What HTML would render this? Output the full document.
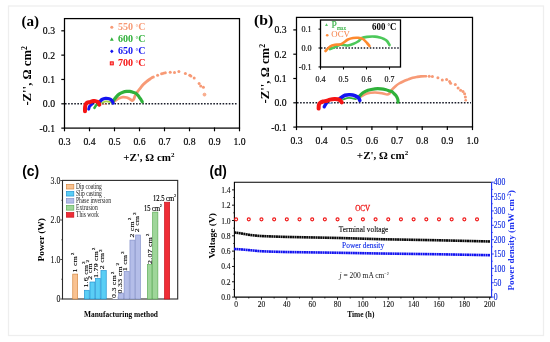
<!DOCTYPE html>
<html><head><meta charset="utf-8"><style>
html,body{margin:0;padding:0;background:#fff;width:550px;height:342px;overflow:hidden}
svg{display:block;will-change:transform}
</style></head><body>
<svg width="550" height="342" viewBox="0 0 550 342">
<rect x="8.50" y="6.00" width="535.00" height="329.50" fill="none" stroke="#eeeeee" stroke-width="1.3"/>
<text x="21.40" y="26.00" font-size="15" text-anchor="start" font-weight="bold" font-style="normal" fill="#000" font-family='"Liberation Serif", serif' textLength="17.6" lengthAdjust="spacingAndGlyphs">(a)</text>
<line x1="61.30" y1="30.81" x2="64.50" y2="30.81" stroke="#000" stroke-width="1.2"/>
<text x="0.00" y="0.00" font-size="10.8" text-anchor="end" font-weight="normal" font-style="normal" fill="#000" font-family='"Liberation Serif", serif' transform="translate(55.00 34.21) scale(0.9 1)" stroke="#000" stroke-width="0.2">0.3</text>
<line x1="61.30" y1="55.14" x2="64.50" y2="55.14" stroke="#000" stroke-width="1.2"/>
<text x="0.00" y="0.00" font-size="10.8" text-anchor="end" font-weight="normal" font-style="normal" fill="#000" font-family='"Liberation Serif", serif' transform="translate(55.00 58.54) scale(0.9 1)" stroke="#000" stroke-width="0.2">0.2</text>
<line x1="61.30" y1="79.47" x2="64.50" y2="79.47" stroke="#000" stroke-width="1.2"/>
<text x="0.00" y="0.00" font-size="10.8" text-anchor="end" font-weight="normal" font-style="normal" fill="#000" font-family='"Liberation Serif", serif' transform="translate(55.00 82.87) scale(0.9 1)" stroke="#000" stroke-width="0.2">0.1</text>
<line x1="61.30" y1="103.80" x2="64.50" y2="103.80" stroke="#000" stroke-width="1.2"/>
<text x="0.00" y="0.00" font-size="10.8" text-anchor="end" font-weight="normal" font-style="normal" fill="#000" font-family='"Liberation Serif", serif' transform="translate(55.00 107.20) scale(0.9 1)" stroke="#000" stroke-width="0.2">0.0</text>
<line x1="61.30" y1="128.13" x2="64.50" y2="128.13" stroke="#000" stroke-width="1.2"/>
<text x="0.00" y="0.00" font-size="10.8" text-anchor="end" font-weight="normal" font-style="normal" fill="#000" font-family='"Liberation Serif", serif' transform="translate(55.00 131.53) scale(0.9 1)" stroke="#000" stroke-width="0.2">-0.1</text>
<line x1="64.50" y1="127.50" x2="64.50" y2="131.30" stroke="#000" stroke-width="1.2"/>
<text x="0.00" y="0.00" font-size="10.8" text-anchor="middle" font-weight="normal" font-style="normal" fill="#000" font-family='"Liberation Serif", serif' transform="translate(64.50 145.20) scale(0.9 1)" stroke="#000" stroke-width="0.2">0.3</text>
<line x1="89.50" y1="127.50" x2="89.50" y2="131.30" stroke="#000" stroke-width="1.2"/>
<text x="0.00" y="0.00" font-size="10.8" text-anchor="middle" font-weight="normal" font-style="normal" fill="#000" font-family='"Liberation Serif", serif' transform="translate(89.50 145.20) scale(0.9 1)" stroke="#000" stroke-width="0.2">0.4</text>
<line x1="114.50" y1="127.50" x2="114.50" y2="131.30" stroke="#000" stroke-width="1.2"/>
<text x="0.00" y="0.00" font-size="10.8" text-anchor="middle" font-weight="normal" font-style="normal" fill="#000" font-family='"Liberation Serif", serif' transform="translate(114.50 145.20) scale(0.9 1)" stroke="#000" stroke-width="0.2">0.5</text>
<line x1="139.50" y1="127.50" x2="139.50" y2="131.30" stroke="#000" stroke-width="1.2"/>
<text x="0.00" y="0.00" font-size="10.8" text-anchor="middle" font-weight="normal" font-style="normal" fill="#000" font-family='"Liberation Serif", serif' transform="translate(139.50 145.20) scale(0.9 1)" stroke="#000" stroke-width="0.2">0.6</text>
<line x1="164.50" y1="127.50" x2="164.50" y2="131.30" stroke="#000" stroke-width="1.2"/>
<text x="0.00" y="0.00" font-size="10.8" text-anchor="middle" font-weight="normal" font-style="normal" fill="#000" font-family='"Liberation Serif", serif' transform="translate(164.50 145.20) scale(0.9 1)" stroke="#000" stroke-width="0.2">0.7</text>
<line x1="189.50" y1="127.50" x2="189.50" y2="131.30" stroke="#000" stroke-width="1.2"/>
<text x="0.00" y="0.00" font-size="10.8" text-anchor="middle" font-weight="normal" font-style="normal" fill="#000" font-family='"Liberation Serif", serif' transform="translate(189.50 145.20) scale(0.9 1)" stroke="#000" stroke-width="0.2">0.8</text>
<line x1="214.50" y1="127.50" x2="214.50" y2="131.30" stroke="#000" stroke-width="1.2"/>
<text x="0.00" y="0.00" font-size="10.8" text-anchor="middle" font-weight="normal" font-style="normal" fill="#000" font-family='"Liberation Serif", serif' transform="translate(214.50 145.20) scale(0.9 1)" stroke="#000" stroke-width="0.2">0.9</text>
<line x1="239.50" y1="127.50" x2="239.50" y2="131.30" stroke="#000" stroke-width="1.2"/>
<text x="0.00" y="0.00" font-size="10.8" text-anchor="middle" font-weight="normal" font-style="normal" fill="#000" font-family='"Liberation Serif", serif' transform="translate(239.50 145.20) scale(0.9 1)" stroke="#000" stroke-width="0.2">1.0</text>
<line x1="65.00" y1="103.80" x2="237.00" y2="103.80" stroke="#1a1d2a" stroke-width="1.6" stroke-dasharray="1.6 1.49"/>
<rect x="64.50" y="18.60" width="175.00" height="109.50" fill="none" stroke="#000" stroke-width="1.25"/>
<text x="148.80" y="161.00" font-size="11" text-anchor="middle" font-weight="bold" font-style="normal" fill="#000" font-family='"Liberation Serif", serif'>+Z', Ω cm<tspan font-size="7" dy="-4">2</tspan></text>
<text x="31.30" y="105.60" font-size="13" text-anchor="start" font-weight="bold" font-style="normal" fill="#000" font-family='"Liberation Serif", serif' transform="rotate(-90 31.3 105.6)" textLength="59.5" lengthAdjust="spacingAndGlyphs">-Z'', Ω cm<tspan font-size="8" dy="-4.5">2</tspan></text>
<text x="118.00" y="30.20" font-size="9.8" text-anchor="start" font-weight="bold" font-style="normal" fill="#f79a76" font-family='"Liberation Serif", serif' textLength="27.6" lengthAdjust="spacingAndGlyphs">550 <tspan font-size="6.8" dy="-1.6">°</tspan><tspan dy="1.6">C</tspan></text>
<circle cx="111.80" cy="27.20" r="1.55" fill="#f79a76" stroke="none" stroke-width="0"/>
<text x="118.00" y="42.25" font-size="9.8" text-anchor="start" font-weight="bold" font-style="normal" fill="#2fb13a" font-family='"Liberation Serif", serif' textLength="27.6" lengthAdjust="spacingAndGlyphs">600 <tspan font-size="6.8" dy="-1.6">°</tspan><tspan dy="1.6">C</tspan></text>
<polygon points="111.8,37.25 109.9,40.65 113.7,40.65" fill="#2fb13a"/>
<text x="118.00" y="54.30" font-size="9.8" text-anchor="start" font-weight="bold" font-style="normal" fill="#1414f0" font-family='"Liberation Serif", serif' textLength="27.6" lengthAdjust="spacingAndGlyphs">650 <tspan font-size="6.8" dy="-1.6">°</tspan><tspan dy="1.6">C</tspan></text>
<polygon points="111.8,49.4 113.6,51.3 111.8,53.199999999999996 110.0,51.3" fill="#1414f0"/>
<text x="118.00" y="66.35" font-size="9.8" text-anchor="start" font-weight="bold" font-style="normal" fill="#f51414" font-family='"Liberation Serif", serif' textLength="27.6" lengthAdjust="spacingAndGlyphs">700 <tspan font-size="6.8" dy="-1.6">°</tspan><tspan dy="1.6">C</tspan></text>
<rect x="110.30" y="61.85" width="3.00" height="3.00" fill="#f88" stroke="#f51414" stroke-width="1.0"/>
<path d="M113.50,101.60 C113.80,101.42 114.37,101.05 115.30,100.50 C116.23,99.95 117.83,98.87 119.10,98.30 C120.37,97.73 121.63,97.23 122.90,97.10 C124.17,96.97 125.55,97.18 126.70,97.50 C127.85,97.82 128.92,98.48 129.80,99.00 C130.68,99.52 131.37,100.50 132.00,100.60 C132.63,100.70 133.08,100.42 133.60,99.60 C134.12,98.78 134.47,96.98 135.10,95.70 C135.73,94.42 136.52,93.17 137.40,91.90 C138.28,90.63 139.38,89.37 140.40,88.10 C141.42,86.83 142.48,85.38 143.50,84.30 C144.52,83.22 145.42,82.48 146.50,81.60 C147.58,80.72 149.08,79.67 150.00,79.00 C150.92,78.33 151.67,77.83 152.00,77.60" fill="none" stroke="#f79a76" stroke-width="2.8" stroke-linecap="round" stroke-linejoin="round"/>
<circle cx="153.30" cy="76.90" r="1.5" fill="#f79a76" stroke="none" stroke-width="0"/>
<circle cx="157.60" cy="75.30" r="1.5" fill="#f79a76" stroke="none" stroke-width="0"/>
<circle cx="161.60" cy="73.70" r="1.5" fill="#f79a76" stroke="none" stroke-width="0"/>
<circle cx="163.40" cy="73.20" r="1.5" fill="#f79a76" stroke="none" stroke-width="0"/>
<circle cx="165.30" cy="72.80" r="1.5" fill="#f79a76" stroke="none" stroke-width="0"/>
<circle cx="170.20" cy="72.30" r="1.5" fill="#f79a76" stroke="none" stroke-width="0"/>
<circle cx="174.50" cy="72.60" r="1.5" fill="#f79a76" stroke="none" stroke-width="0"/>
<circle cx="178.90" cy="71.60" r="1.5" fill="#f79a76" stroke="none" stroke-width="0"/>
<circle cx="185.40" cy="73.60" r="1.5" fill="#f79a76" stroke="none" stroke-width="0"/>
<circle cx="189.80" cy="75.30" r="1.5" fill="#f79a76" stroke="none" stroke-width="0"/>
<circle cx="190.90" cy="76.10" r="1.5" fill="#f79a76" stroke="none" stroke-width="0"/>
<circle cx="194.20" cy="78.00" r="1.5" fill="#f79a76" stroke="none" stroke-width="0"/>
<circle cx="199.10" cy="83.40" r="1.5" fill="#f79a76" stroke="none" stroke-width="0"/>
<circle cx="200.70" cy="86.00" r="1.5" fill="#f79a76" stroke="none" stroke-width="0"/>
<circle cx="203.40" cy="87.30" r="1.5" fill="#f79a76" stroke="none" stroke-width="0"/>
<circle cx="204.50" cy="94.60" r="1.45" fill="#f9b090" stroke="#f79a76" stroke-width="0.8"/>
<path d="M94.50,107.80 C94.75,107.42 95.50,106.07 96.00,105.50 C96.50,104.93 97.25,104.58 97.50,104.40" fill="none" stroke="#2fb13a" stroke-width="2.6" stroke-linecap="round" stroke-linejoin="round"/>
<path d="M101.80,102.80 C102.53,102.57 104.87,101.53 106.20,101.40 C107.53,101.27 108.83,101.70 109.80,102.00 C110.77,102.30 111.63,103.00 112.00,103.20" fill="none" stroke="#a8d840" stroke-width="1.8" stroke-linecap="round" stroke-linejoin="round"/>
<circle cx="103.50" cy="104.20" r="0.6" fill="#f08050" stroke="none" stroke-width="0"/>
<circle cx="105.00" cy="104.20" r="0.6" fill="#f08050" stroke="none" stroke-width="0"/>
<circle cx="106.50" cy="104.20" r="0.6" fill="#f08050" stroke="none" stroke-width="0"/>
<path d="M113.20,101.00 C113.68,100.35 115.12,98.25 116.10,97.10 C117.08,95.95 117.97,94.92 119.10,94.10 C120.23,93.28 121.63,92.65 122.90,92.20 C124.17,91.75 125.55,91.53 126.70,91.40 C127.85,91.27 128.78,91.27 129.80,91.40 C130.82,91.53 131.78,91.88 132.80,92.20 C133.82,92.52 135.02,92.75 135.90,93.30 C136.78,93.85 137.47,94.75 138.10,95.50 C138.73,96.25 139.18,97.05 139.70,97.80 C140.22,98.55 140.77,99.33 141.20,100.00 C141.63,100.67 142.12,101.50 142.30,101.80" fill="none" stroke="#2fb13a" stroke-width="3.2" stroke-linecap="round" stroke-linejoin="round"/>
<path d="M88.70,109.10 C88.83,108.67 89.13,107.17 89.50,106.50 C89.87,105.83 90.48,105.48 90.90,105.10 C91.32,104.72 91.82,104.35 92.00,104.20" fill="none" stroke="#1414f0" stroke-width="3.0" stroke-linecap="round" stroke-linejoin="round"/>
<path d="M99.80,101.80 C100.17,101.42 101.05,100.07 102.00,99.50 C102.95,98.93 104.32,98.52 105.50,98.40 C106.68,98.28 108.05,98.45 109.10,98.80 C110.15,99.15 111.13,99.80 111.80,100.50 C112.47,101.20 112.88,102.58 113.10,103.00" fill="none" stroke="#1414f0" stroke-width="3.3" stroke-linecap="round" stroke-linejoin="round"/>
<path d="M85.00,111.30 C85.02,110.58 84.97,108.18 85.10,107.00 C85.23,105.82 85.42,104.95 85.80,104.20 C86.18,103.45 86.78,102.83 87.40,102.50 C88.02,102.17 88.87,102.33 89.50,102.20 C90.13,102.07 90.58,101.88 91.20,101.70 C91.82,101.52 92.48,101.20 93.20,101.10 C93.92,101.00 94.78,100.98 95.50,101.10 C96.22,101.22 96.95,101.45 97.50,101.80 C98.05,102.15 98.48,102.73 98.80,103.20 C99.12,103.67 99.30,104.37 99.40,104.60" fill="none" stroke="#f51414" stroke-width="4.0" stroke-linecap="round" stroke-linejoin="round"/>
<text x="254.00" y="24.50" font-size="15" text-anchor="start" font-weight="bold" font-style="normal" fill="#000" font-family='"Liberation Serif", serif' textLength="19.3" lengthAdjust="spacingAndGlyphs">(b)</text>
<line x1="293.30" y1="29.90" x2="296.50" y2="29.90" stroke="#000" stroke-width="1.2"/>
<text x="0.00" y="0.00" font-size="10.8" text-anchor="end" font-weight="normal" font-style="normal" fill="#000" font-family='"Liberation Serif", serif' transform="translate(286.60 33.30) scale(0.9 1)" stroke="#000" stroke-width="0.2">0.3</text>
<line x1="293.30" y1="54.20" x2="296.50" y2="54.20" stroke="#000" stroke-width="1.2"/>
<text x="0.00" y="0.00" font-size="10.8" text-anchor="end" font-weight="normal" font-style="normal" fill="#000" font-family='"Liberation Serif", serif' transform="translate(286.60 57.60) scale(0.9 1)" stroke="#000" stroke-width="0.2">0.2</text>
<line x1="293.30" y1="78.50" x2="296.50" y2="78.50" stroke="#000" stroke-width="1.2"/>
<text x="0.00" y="0.00" font-size="10.8" text-anchor="end" font-weight="normal" font-style="normal" fill="#000" font-family='"Liberation Serif", serif' transform="translate(286.60 81.90) scale(0.9 1)" stroke="#000" stroke-width="0.2">0.1</text>
<line x1="293.30" y1="102.80" x2="296.50" y2="102.80" stroke="#000" stroke-width="1.2"/>
<text x="0.00" y="0.00" font-size="10.8" text-anchor="end" font-weight="normal" font-style="normal" fill="#000" font-family='"Liberation Serif", serif' transform="translate(286.60 106.20) scale(0.9 1)" stroke="#000" stroke-width="0.2">0.0</text>
<line x1="293.30" y1="127.10" x2="296.50" y2="127.10" stroke="#000" stroke-width="1.2"/>
<text x="0.00" y="0.00" font-size="10.8" text-anchor="end" font-weight="normal" font-style="normal" fill="#000" font-family='"Liberation Serif", serif' transform="translate(286.60 130.50) scale(0.9 1)" stroke="#000" stroke-width="0.2">-0.1</text>
<line x1="296.50" y1="126.30" x2="296.50" y2="130.10" stroke="#000" stroke-width="1.2"/>
<text x="0.00" y="0.00" font-size="10.8" text-anchor="middle" font-weight="normal" font-style="normal" fill="#000" font-family='"Liberation Serif", serif' transform="translate(296.50 144.00) scale(0.9 1)" stroke="#000" stroke-width="0.2">0.3</text>
<line x1="321.64" y1="126.30" x2="321.64" y2="130.10" stroke="#000" stroke-width="1.2"/>
<text x="0.00" y="0.00" font-size="10.8" text-anchor="middle" font-weight="normal" font-style="normal" fill="#000" font-family='"Liberation Serif", serif' transform="translate(321.64 144.00) scale(0.9 1)" stroke="#000" stroke-width="0.2">0.4</text>
<line x1="346.78" y1="126.30" x2="346.78" y2="130.10" stroke="#000" stroke-width="1.2"/>
<text x="0.00" y="0.00" font-size="10.8" text-anchor="middle" font-weight="normal" font-style="normal" fill="#000" font-family='"Liberation Serif", serif' transform="translate(346.78 144.00) scale(0.9 1)" stroke="#000" stroke-width="0.2">0.5</text>
<line x1="371.92" y1="126.30" x2="371.92" y2="130.10" stroke="#000" stroke-width="1.2"/>
<text x="0.00" y="0.00" font-size="10.8" text-anchor="middle" font-weight="normal" font-style="normal" fill="#000" font-family='"Liberation Serif", serif' transform="translate(371.92 144.00) scale(0.9 1)" stroke="#000" stroke-width="0.2">0.6</text>
<line x1="397.06" y1="126.30" x2="397.06" y2="130.10" stroke="#000" stroke-width="1.2"/>
<text x="0.00" y="0.00" font-size="10.8" text-anchor="middle" font-weight="normal" font-style="normal" fill="#000" font-family='"Liberation Serif", serif' transform="translate(397.06 144.00) scale(0.9 1)" stroke="#000" stroke-width="0.2">0.7</text>
<line x1="422.20" y1="126.30" x2="422.20" y2="130.10" stroke="#000" stroke-width="1.2"/>
<text x="0.00" y="0.00" font-size="10.8" text-anchor="middle" font-weight="normal" font-style="normal" fill="#000" font-family='"Liberation Serif", serif' transform="translate(422.20 144.00) scale(0.9 1)" stroke="#000" stroke-width="0.2">0.8</text>
<line x1="447.34" y1="126.30" x2="447.34" y2="130.10" stroke="#000" stroke-width="1.2"/>
<text x="0.00" y="0.00" font-size="10.8" text-anchor="middle" font-weight="normal" font-style="normal" fill="#000" font-family='"Liberation Serif", serif' transform="translate(447.34 144.00) scale(0.9 1)" stroke="#000" stroke-width="0.2">0.9</text>
<line x1="472.48" y1="126.30" x2="472.48" y2="130.10" stroke="#000" stroke-width="1.2"/>
<text x="0.00" y="0.00" font-size="10.8" text-anchor="middle" font-weight="normal" font-style="normal" fill="#000" font-family='"Liberation Serif", serif' transform="translate(472.48 144.00) scale(0.9 1)" stroke="#000" stroke-width="0.2">1.0</text>
<line x1="297.00" y1="102.80" x2="470.98" y2="102.80" stroke="#1a1d2a" stroke-width="1.6" stroke-dasharray="1.6 1.49"/>
<rect x="296.50" y="17.40" width="176.00" height="109.50" fill="none" stroke="#000" stroke-width="1.25"/>
<text x="382.50" y="159.30" font-size="11" text-anchor="middle" font-weight="bold" font-style="normal" fill="#000" font-family='"Liberation Serif", serif'>+Z', Ω cm<tspan font-size="7" dy="-4">2</tspan></text>
<text x="269.40" y="103.40" font-size="13" text-anchor="start" font-weight="bold" font-style="normal" fill="#000" font-family='"Liberation Serif", serif' transform="rotate(-90 269.4 103.4)" textLength="59.5" lengthAdjust="spacingAndGlyphs">-Z'', Ω cm<tspan font-size="8" dy="-4.5">2</tspan></text>
<rect x="320.5" y="20" width="80" height="47" fill="#fff" stroke="none"/>
<line x1="318.50" y1="29.10" x2="320.50" y2="29.10" stroke="#000" stroke-width="1.1"/>
<text x="0.00" y="0.00" font-size="8.6" text-anchor="end" font-weight="normal" font-style="normal" fill="#111" font-family='"Liberation Serif", serif' transform="translate(311.60 32.00) scale(0.95 1)" stroke="#111" stroke-width="0.2">0.1</text>
<line x1="318.50" y1="48.00" x2="320.50" y2="48.00" stroke="#000" stroke-width="1.1"/>
<text x="0.00" y="0.00" font-size="8.6" text-anchor="end" font-weight="normal" font-style="normal" fill="#111" font-family='"Liberation Serif", serif' transform="translate(311.60 50.90) scale(0.95 1)" stroke="#111" stroke-width="0.2">0.0</text>
<line x1="318.50" y1="66.90" x2="320.50" y2="66.90" stroke="#000" stroke-width="1.1"/>
<text x="0.00" y="0.00" font-size="8.6" text-anchor="end" font-weight="normal" font-style="normal" fill="#111" font-family='"Liberation Serif", serif' transform="translate(311.60 69.80) scale(0.95 1)" stroke="#111" stroke-width="0.2">-0.1</text>
<line x1="320.50" y1="67.00" x2="320.50" y2="69.50" stroke="#000" stroke-width="1.1"/>
<text x="0.00" y="0.00" font-size="8.4" text-anchor="middle" font-weight="normal" font-style="normal" fill="#111" font-family='"Liberation Serif", serif' transform="translate(320.50 81.50) scale(0.95 1)" stroke="#111" stroke-width="0.2">0.4</text>
<line x1="343.50" y1="67.00" x2="343.50" y2="69.50" stroke="#000" stroke-width="1.1"/>
<text x="0.00" y="0.00" font-size="8.4" text-anchor="middle" font-weight="normal" font-style="normal" fill="#111" font-family='"Liberation Serif", serif' transform="translate(343.50 81.50) scale(0.95 1)" stroke="#111" stroke-width="0.2">0.5</text>
<line x1="366.50" y1="67.00" x2="366.50" y2="69.50" stroke="#000" stroke-width="1.1"/>
<text x="0.00" y="0.00" font-size="8.4" text-anchor="middle" font-weight="normal" font-style="normal" fill="#111" font-family='"Liberation Serif", serif' transform="translate(366.50 81.50) scale(0.95 1)" stroke="#111" stroke-width="0.2">0.6</text>
<line x1="389.50" y1="67.00" x2="389.50" y2="69.50" stroke="#000" stroke-width="1.1"/>
<text x="0.00" y="0.00" font-size="8.4" text-anchor="middle" font-weight="normal" font-style="normal" fill="#111" font-family='"Liberation Serif", serif' transform="translate(389.50 81.50) scale(0.95 1)" stroke="#111" stroke-width="0.2">0.7</text>
<line x1="321.00" y1="48.00" x2="400.00" y2="48.00" stroke="#1a1d2a" stroke-width="1.5" stroke-dasharray="1.5 1.55"/>
<rect x="320.50" y="20.00" width="80.00" height="47.00" fill="none" stroke="#000" stroke-width="1.3"/>
<text x="372.00" y="30.00" font-size="9.6" text-anchor="start" font-weight="bold" font-style="normal" fill="#000" font-family='"Liberation Serif", serif' textLength="24.5" lengthAdjust="spacingAndGlyphs">600 <tspan font-size="6.8" dy="-1.6">°</tspan><tspan dy="1.6">C</tspan></text>
<polygon points="326.5,23.3 325,26 328,26" fill="#5cc46a"/>
<text x="331.50" y="27.50" font-size="9.5" text-anchor="start" font-weight="normal" font-style="normal" fill="#3cb44a" font-family='"Liberation Serif", serif' stroke="#3cb44a" stroke-width="0.2">P</text>
<text x="337.00" y="29.90" font-size="5.6" text-anchor="start" font-weight="normal" font-style="normal" fill="#3cb44a" font-family='"Liberation Serif", serif' stroke="#3cb44a" stroke-width="0.15" textLength="9" lengthAdjust="spacingAndGlyphs">max</text>
<circle cx="327.20" cy="35.20" r="1.3" fill="#ff8c3a" stroke="none" stroke-width="0"/>
<text x="331.30" y="37.30" font-size="9.2" text-anchor="start" font-weight="normal" font-style="normal" fill="#f5824a" font-family='"Liberation Serif", serif' textLength="18.6" lengthAdjust="spacingAndGlyphs">OCV</text>
<path d="M330.00,49.00 C330.83,48.67 333.33,47.70 335.00,47.00 C336.67,46.30 338.50,45.13 340.00,44.80 C341.50,44.47 342.67,44.88 344.00,45.00 C345.33,45.12 346.50,45.67 348.00,45.50 C349.50,45.33 351.33,44.67 353.00,44.00 C354.67,43.33 356.50,42.50 358.00,41.50 C359.50,40.50 360.50,38.78 362.00,38.00 C363.50,37.22 364.83,37.03 367.00,36.80 C369.17,36.57 372.83,36.48 375.00,36.60 C377.17,36.72 378.50,37.10 380.00,37.50 C381.50,37.90 382.83,38.42 384.00,39.00 C385.17,39.58 386.08,40.00 387.00,41.00 C387.92,42.00 389.08,44.33 389.50,45.00" fill="none" stroke="#4cc85a" stroke-width="2.7" stroke-linecap="round" stroke-linejoin="round"/>
<path d="M325.50,51.00 C326.25,50.25 328.42,47.55 330.00,46.50 C331.58,45.45 333.33,45.03 335.00,44.70 C336.67,44.37 338.67,44.78 340.00,44.50 C341.33,44.22 341.67,43.83 343.00,43.00 C344.33,42.17 346.33,40.33 348.00,39.50 C349.67,38.67 351.33,38.28 353.00,38.00 C354.67,37.72 356.33,37.63 358.00,37.80 C359.67,37.97 361.50,38.13 363.00,39.00 C364.50,39.87 365.92,41.83 367.00,43.00 C368.08,44.17 369.08,45.50 369.50,46.00" fill="none" stroke="#fd8a2e" stroke-width="2.6" stroke-linecap="round" stroke-linejoin="round"/>
<path d="M361.00,96.50 C362.00,96.00 364.67,94.17 367.00,93.50 C369.33,92.83 372.33,92.50 375.00,92.50 C377.67,92.50 381.00,93.17 383.00,93.50 C385.00,93.83 385.92,94.50 387.00,94.50 C388.08,94.50 388.70,94.28 389.50,93.50 C390.30,92.72 390.80,91.02 391.80,89.80 C392.80,88.58 394.28,87.25 395.50,86.20 C396.72,85.15 397.75,84.33 399.10,83.50 C400.45,82.67 402.08,81.88 403.60,81.20 C405.12,80.52 406.68,79.97 408.20,79.40 C409.72,78.83 411.18,78.22 412.70,77.80 C414.22,77.38 415.93,77.13 417.30,76.90 C418.67,76.67 419.70,76.52 420.90,76.40 C422.10,76.28 423.65,76.23 424.50,76.20 C425.35,76.17 425.75,76.20 426.00,76.20" fill="none" stroke="#f79a76" stroke-width="2.6" stroke-linecap="round" stroke-linejoin="round"/>
<circle cx="429.20" cy="76.30" r="1.5" fill="#f79a76" stroke="none" stroke-width="0"/>
<circle cx="432.40" cy="76.60" r="1.5" fill="#f79a76" stroke="none" stroke-width="0"/>
<circle cx="437.90" cy="77.70" r="1.5" fill="#f79a76" stroke="none" stroke-width="0"/>
<circle cx="442.30" cy="80.00" r="1.5" fill="#f79a76" stroke="none" stroke-width="0"/>
<circle cx="446.60" cy="79.60" r="1.5" fill="#f79a76" stroke="none" stroke-width="0"/>
<circle cx="449.60" cy="81.60" r="1.5" fill="#f79a76" stroke="none" stroke-width="0"/>
<circle cx="450.60" cy="83.20" r="1.5" fill="#f79a76" stroke="none" stroke-width="0"/>
<circle cx="455.30" cy="84.40" r="1.5" fill="#f79a76" stroke="none" stroke-width="0"/>
<circle cx="458.10" cy="88.00" r="1.5" fill="#f79a76" stroke="none" stroke-width="0"/>
<circle cx="460.60" cy="90.20" r="1.5" fill="#f79a76" stroke="none" stroke-width="0"/>
<circle cx="463.00" cy="91.60" r="1.5" fill="#f79a76" stroke="none" stroke-width="0"/>
<circle cx="464.60" cy="93.70" r="1.5" fill="#f79a76" stroke="none" stroke-width="0"/>
<circle cx="465.40" cy="96.90" r="1.5" fill="#f79a76" stroke="none" stroke-width="0"/>
<circle cx="465.70" cy="100.20" r="1.3" fill="#f79a76" stroke="none" stroke-width="0"/>
<path d="M343.00,99.50 C344.00,99.22 346.83,97.85 349.00,97.80 C351.17,97.75 354.83,98.97 356.00,99.20" fill="none" stroke="#2fb13a" stroke-width="1.8" stroke-linecap="round" stroke-linejoin="round"/>
<polyline points="329.00,103.50 332.00,102.80" fill="none" stroke="#7ad" stroke-width="1.2" stroke-linecap="round" stroke-linejoin="round"/>
<path d="M359.00,96.60 C359.67,95.97 361.50,93.85 363.00,92.80 C364.50,91.75 366.00,90.97 368.00,90.30 C370.00,89.63 372.83,89.05 375.00,88.80 C377.17,88.55 379.17,88.65 381.00,88.80 C382.83,88.95 384.50,89.32 386.00,89.70 C387.50,90.08 389.00,90.77 390.00,91.10 C391.00,91.43 391.42,91.37 392.00,91.70 C392.58,92.03 392.83,92.45 393.50,93.10 C394.17,93.75 395.28,94.55 396.00,95.60 C396.72,96.65 397.47,98.30 397.80,99.40 C398.13,100.50 397.97,101.73 398.00,102.20" fill="none" stroke="#2fb13a" stroke-width="3.2" stroke-linecap="round" stroke-linejoin="round"/>
<path d="M324.20,106.80 C324.42,106.42 325.12,105.08 325.50,104.50 C325.88,103.92 326.33,103.50 326.50,103.30" fill="none" stroke="#1414f0" stroke-width="3.3" stroke-linecap="round" stroke-linejoin="round"/>
<path d="M340.00,98.40 C340.83,97.88 343.33,95.90 345.00,95.30 C346.67,94.70 348.33,94.73 350.00,94.80 C351.67,94.87 353.58,95.18 355.00,95.70 C356.42,96.22 357.70,97.13 358.50,97.90 C359.30,98.67 359.58,99.90 359.80,100.30" fill="none" stroke="#1414f0" stroke-width="3.6" stroke-linecap="round" stroke-linejoin="round"/>
<path d="M318.60,108.60 C318.65,107.97 318.63,105.77 318.90,104.80 C319.17,103.83 319.52,103.35 320.20,102.80 C320.88,102.25 321.87,101.83 323.00,101.50 C324.13,101.17 325.83,101.12 327.00,100.80 C328.17,100.48 328.67,99.88 330.00,99.60 C331.33,99.32 333.42,99.05 335.00,99.10 C336.58,99.15 338.37,99.37 339.50,99.90 C340.63,100.43 341.42,101.90 341.80,102.30" fill="none" stroke="#f51414" stroke-width="4.0" stroke-linecap="round" stroke-linejoin="round"/>
<text x="22.20" y="175.90" font-size="15.5" text-anchor="start" font-weight="bold" font-style="normal" fill="#000" font-family='"Liberation Sans", sans-serif' textLength="17" lengthAdjust="spacingAndGlyphs">(c)</text>
<line x1="60.30" y1="180.50" x2="62.50" y2="180.50" stroke="#333" stroke-width="0.9"/>
<text x="0.00" y="0.00" font-size="9.8" text-anchor="end" font-weight="normal" font-style="normal" fill="#111" font-family='"Liberation Serif", serif' transform="translate(60.40 183.80) scale(0.8 1)" stroke="#111" stroke-width="0.1">3.0</text>
<line x1="60.30" y1="220.00" x2="62.50" y2="220.00" stroke="#333" stroke-width="0.9"/>
<text x="0.00" y="0.00" font-size="9.8" text-anchor="end" font-weight="normal" font-style="normal" fill="#111" font-family='"Liberation Serif", serif' transform="translate(60.40 223.30) scale(0.8 1)" stroke="#111" stroke-width="0.1">2.0</text>
<line x1="60.30" y1="259.50" x2="62.50" y2="259.50" stroke="#333" stroke-width="0.9"/>
<text x="0.00" y="0.00" font-size="9.8" text-anchor="end" font-weight="normal" font-style="normal" fill="#111" font-family='"Liberation Serif", serif' transform="translate(60.40 262.80) scale(0.8 1)" stroke="#111" stroke-width="0.1">1.0</text>
<line x1="60.30" y1="299.00" x2="62.50" y2="299.00" stroke="#333" stroke-width="0.9"/>
<text x="0.00" y="0.00" font-size="9.8" text-anchor="end" font-weight="normal" font-style="normal" fill="#111" font-family='"Liberation Serif", serif' transform="translate(60.40 302.30) scale(0.8 1)" stroke="#111" stroke-width="0.1">0</text>
<line x1="61.30" y1="279.25" x2="62.50" y2="279.25" stroke="#333" stroke-width="0.8"/>
<line x1="61.30" y1="239.75" x2="62.50" y2="239.75" stroke="#333" stroke-width="0.8"/>
<line x1="61.30" y1="200.25" x2="62.50" y2="200.25" stroke="#333" stroke-width="0.8"/>
<rect x="62.50" y="180.40" width="115.20" height="118.60" fill="none" stroke="#2a2a2a" stroke-width="1.1"/>
<text x="0" y="0" font-size="9.0" font-weight="bold" fill="#000" font-family='"Liberation Serif", serif' transform="translate(43.80 261.50) scale(0.85 1) rotate(-90)" textLength="43.4" lengthAdjust="spacingAndGlyphs">Power (W)</text>
<text x="84.00" y="317.00" font-size="8.6" text-anchor="start" font-weight="bold" font-style="normal" fill="#000" font-family='"Liberation Serif", serif' textLength="74" lengthAdjust="spacingAndGlyphs">Manufacturing method</text>
<rect x="66.40" y="184.40" width="7.40" height="4.60" fill="#f9c291" stroke="#d58a45" stroke-width="0.7"/>
<text x="76.00" y="188.80" font-size="8.0" text-anchor="start" font-weight="normal" font-style="normal" fill="#1a1a1a" font-family='"Liberation Serif", serif' textLength="25.8" lengthAdjust="spacingAndGlyphs">Dip coating</text>
<rect x="66.40" y="191.45" width="7.40" height="4.60" fill="#5acef5" stroke="#2496d4" stroke-width="0.7"/>
<text x="76.00" y="195.85" font-size="8.0" text-anchor="start" font-weight="normal" font-style="normal" fill="#1a1a1a" font-family='"Liberation Serif", serif' textLength="25.8" lengthAdjust="spacingAndGlyphs">Slip casting</text>
<rect x="66.40" y="198.50" width="7.40" height="4.60" fill="#b4bde8" stroke="#8894cc" stroke-width="0.7"/>
<text x="76.00" y="202.90" font-size="8.0" text-anchor="start" font-weight="normal" font-style="normal" fill="#1a1a1a" font-family='"Liberation Serif", serif' textLength="35.1" lengthAdjust="spacingAndGlyphs">Phase inversion</text>
<rect x="66.40" y="205.55" width="7.40" height="4.60" fill="#9fd69a" stroke="#5fae5a" stroke-width="0.7"/>
<text x="76.00" y="209.95" font-size="8.0" text-anchor="start" font-weight="normal" font-style="normal" fill="#1a1a1a" font-family='"Liberation Serif", serif' textLength="21.7" lengthAdjust="spacingAndGlyphs">Extrusion</text>
<rect x="66.40" y="212.60" width="7.40" height="4.60" fill="#ef2d36" stroke="#c8101c" stroke-width="0.7"/>
<text x="76.00" y="217.00" font-size="8.0" text-anchor="start" font-weight="normal" font-style="normal" fill="#1a1a1a" font-family='"Liberation Serif", serif' textLength="22.8" lengthAdjust="spacingAndGlyphs">This work</text>
<rect x="72.75" y="274.12" width="4.90" height="24.88" fill="#f9c291" stroke="#d58a45" stroke-width="0.7"/>
<rect x="84.45" y="290.31" width="4.80" height="8.69" fill="#5acef5" stroke="#2496d4" stroke-width="0.7"/>
<rect x="89.95" y="282.01" width="4.90" height="16.99" fill="#5acef5" stroke="#2496d4" stroke-width="0.7"/>
<rect x="95.55" y="278.46" width="4.70" height="20.54" fill="#5acef5" stroke="#2496d4" stroke-width="0.7"/>
<rect x="100.95" y="270.56" width="5.30" height="28.44" fill="#5acef5" stroke="#2496d4" stroke-width="0.7"/>
<rect x="113.35" y="297.02" width="4.60" height="1.98" fill="#b4bde8" stroke="#8894cc" stroke-width="0.7"/>
<rect x="118.65" y="293.07" width="4.80" height="5.93" fill="#b4bde8" stroke="#8894cc" stroke-width="0.7"/>
<rect x="124.15" y="271.35" width="5.10" height="27.65" fill="#b4bde8" stroke="#8894cc" stroke-width="0.7"/>
<rect x="129.95" y="240.15" width="5.00" height="58.85" fill="#b4bde8" stroke="#8894cc" stroke-width="0.7"/>
<rect x="135.65" y="235.01" width="4.80" height="63.99" fill="#b4bde8" stroke="#8894cc" stroke-width="0.7"/>
<rect x="147.35" y="264.63" width="4.60" height="34.37" fill="#9fd69a" stroke="#5fae5a" stroke-width="0.7"/>
<rect x="152.65" y="212.10" width="5.20" height="86.90" fill="#9fd69a" stroke="#5fae5a" stroke-width="0.7"/>
<rect x="164.55" y="202.22" width="5.10" height="96.78" fill="#ef2d36" stroke="#c8101c" stroke-width="0.7"/>
<text x="0" y="0" font-size="7.8" fill="#000" stroke="#000" stroke-width="0.15" letter-spacing="0.3" font-family='"Liberation Serif", serif' transform="translate(76.60 272.40) scale(0.8 1) rotate(-90)">1 cm<tspan font-size="5.2" dy="-3.2" dx="0.7">2</tspan></text>
<text x="0" y="0" font-size="7.8" fill="#000" stroke="#000" stroke-width="0.15" letter-spacing="0.3" font-family='"Liberation Serif", serif' transform="translate(87.50 287.60) scale(0.8 1) rotate(-90)">1.6 cm<tspan font-size="5.2" dy="-3.2" dx="0.7">2</tspan></text>
<text x="0" y="0" font-size="7.8" fill="#000" stroke="#000" stroke-width="0.15" letter-spacing="0.3" font-family='"Liberation Serif", serif' transform="translate(92.00 279.70) scale(0.8 1) rotate(-90)">2 cm<tspan font-size="5.2" dy="-3.2" dx="0.7">2</tspan></text>
<text x="0" y="0" font-size="7.8" fill="#000" stroke="#000" stroke-width="0.15" letter-spacing="0.3" font-family='"Liberation Serif", serif' transform="translate(97.50 278.00) scale(0.8 1) rotate(-90)">1.79 cm<tspan font-size="5.2" dy="-3.2" dx="0.7">2</tspan></text>
<text x="0" y="0" font-size="7.8" fill="#000" stroke="#000" stroke-width="0.15" letter-spacing="0.3" font-family='"Liberation Serif", serif' transform="translate(104.10 269.20) scale(0.8 1) rotate(-90)">2 cm<tspan font-size="5.2" dy="-3.2" dx="0.7">2</tspan></text>
<rect x="112.6" y="268" width="5" height="31" fill="#fff"/>
<text x="0" y="0" font-size="7.8" fill="#000" stroke="#000" stroke-width="0.15" letter-spacing="0.3" font-family='"Liberation Serif", serif' transform="translate(116.30 298.00) scale(0.8 1) rotate(-90)">0.3 cm<tspan font-size="5.2" dy="-3.2" dx="0.7">2</tspan></text>
<text x="0" y="0" font-size="7.8" fill="#000" stroke="#000" stroke-width="0.15" letter-spacing="0.3" font-family='"Liberation Serif", serif' transform="translate(121.90 293.40) scale(0.8 1) rotate(-90)">0.33 cm<tspan font-size="5.2" dy="-3.2" dx="0.7">2</tspan></text>
<text x="0" y="0" font-size="7.8" fill="#000" stroke="#000" stroke-width="0.15" letter-spacing="0.3" font-family='"Liberation Serif", serif' transform="translate(126.80 271.30) scale(0.8 1) rotate(-90)">1 cm<tspan font-size="5.2" dy="-3.2" dx="0.7">2</tspan></text>
<text x="0" y="0" font-size="7.8" fill="#000" stroke="#000" stroke-width="0.15" letter-spacing="0.3" font-family='"Liberation Serif", serif' transform="translate(133.60 237.60) scale(0.8 1) rotate(-90)">2 cm<tspan font-size="5.2" dy="-3.2" dx="0.7">2</tspan></text>
<text x="0" y="0" font-size="7.8" fill="#000" stroke="#000" stroke-width="0.15" letter-spacing="0.3" font-family='"Liberation Serif", serif' transform="translate(139.00 232.20) scale(0.8 1) rotate(-90)">2 cm<tspan font-size="5.2" dy="-3.2" dx="0.7">2</tspan></text>
<text x="0" y="0" font-size="7.8" fill="#000" stroke="#000" stroke-width="0.15" letter-spacing="0.3" font-family='"Liberation Serif", serif' transform="translate(152.00 264.00) scale(0.8 1) rotate(-90)">2.07 cm<tspan font-size="5.2" dy="-3.2" dx="0.7">2</tspan></text>
<text x="144.00" y="211.30" font-size="8.9" text-anchor="start" font-weight="normal" font-style="normal" fill="#000" font-family='"Liberation Serif", serif' stroke="#000" stroke-width="0.2" textLength="17.6" lengthAdjust="spacingAndGlyphs">15 cm<tspan font-size="4.6" dy="-4">2</tspan></text>
<text x="152.90" y="200.60" font-size="8.9" text-anchor="start" font-weight="normal" font-style="normal" fill="#000" font-family='"Liberation Serif", serif' stroke="#000" stroke-width="0.2" textLength="23.0" lengthAdjust="spacingAndGlyphs">12.5 cm<tspan font-size="4.6" dy="-4">2</tspan></text>
<text x="209.50" y="175.90" font-size="15.5" text-anchor="start" font-weight="bold" font-style="normal" fill="#000" font-family='"Liberation Sans", sans-serif' textLength="17.4" lengthAdjust="spacingAndGlyphs">(d)</text>
<line x1="232.00" y1="297.10" x2="234.40" y2="297.10" stroke="#000" stroke-width="0.9"/>
<text x="0.00" y="0.00" font-size="9.0" text-anchor="end" font-weight="normal" font-style="normal" fill="#111" font-family='"Liberation Serif", serif' transform="translate(230.60 300.10) scale(0.84 1)" stroke="#111" stroke-width="0.12">0.0</text>
<line x1="232.00" y1="281.78" x2="234.40" y2="281.78" stroke="#000" stroke-width="0.9"/>
<text x="0.00" y="0.00" font-size="9.0" text-anchor="end" font-weight="normal" font-style="normal" fill="#111" font-family='"Liberation Serif", serif' transform="translate(230.60 284.78) scale(0.84 1)" stroke="#111" stroke-width="0.12">0.2</text>
<line x1="232.00" y1="266.46" x2="234.40" y2="266.46" stroke="#000" stroke-width="0.9"/>
<text x="0.00" y="0.00" font-size="9.0" text-anchor="end" font-weight="normal" font-style="normal" fill="#111" font-family='"Liberation Serif", serif' transform="translate(230.60 269.46) scale(0.84 1)" stroke="#111" stroke-width="0.12">0.4</text>
<line x1="232.00" y1="251.14" x2="234.40" y2="251.14" stroke="#000" stroke-width="0.9"/>
<text x="0.00" y="0.00" font-size="9.0" text-anchor="end" font-weight="normal" font-style="normal" fill="#111" font-family='"Liberation Serif", serif' transform="translate(230.60 254.14) scale(0.84 1)" stroke="#111" stroke-width="0.12">0.6</text>
<line x1="232.00" y1="235.82" x2="234.40" y2="235.82" stroke="#000" stroke-width="0.9"/>
<text x="0.00" y="0.00" font-size="9.0" text-anchor="end" font-weight="normal" font-style="normal" fill="#111" font-family='"Liberation Serif", serif' transform="translate(230.60 238.82) scale(0.84 1)" stroke="#111" stroke-width="0.12">0.8</text>
<line x1="232.00" y1="220.50" x2="234.40" y2="220.50" stroke="#000" stroke-width="0.9"/>
<text x="0.00" y="0.00" font-size="9.0" text-anchor="end" font-weight="normal" font-style="normal" fill="#111" font-family='"Liberation Serif", serif' transform="translate(230.60 223.50) scale(0.84 1)" stroke="#111" stroke-width="0.12">1.0</text>
<line x1="232.00" y1="205.18" x2="234.40" y2="205.18" stroke="#000" stroke-width="0.9"/>
<text x="0.00" y="0.00" font-size="9.0" text-anchor="end" font-weight="normal" font-style="normal" fill="#111" font-family='"Liberation Serif", serif' transform="translate(230.60 208.18) scale(0.84 1)" stroke="#111" stroke-width="0.12">1.2</text>
<line x1="232.00" y1="189.86" x2="234.40" y2="189.86" stroke="#000" stroke-width="0.9"/>
<text x="0.00" y="0.00" font-size="9.0" text-anchor="end" font-weight="normal" font-style="normal" fill="#111" font-family='"Liberation Serif", serif' transform="translate(230.60 192.86) scale(0.84 1)" stroke="#111" stroke-width="0.12">1.4</text>
<line x1="233.20" y1="289.44" x2="234.40" y2="289.44" stroke="#000" stroke-width="0.8"/>
<line x1="233.20" y1="274.12" x2="234.40" y2="274.12" stroke="#000" stroke-width="0.8"/>
<line x1="233.20" y1="258.80" x2="234.40" y2="258.80" stroke="#000" stroke-width="0.8"/>
<line x1="233.20" y1="243.48" x2="234.40" y2="243.48" stroke="#000" stroke-width="0.8"/>
<line x1="233.20" y1="228.16" x2="234.40" y2="228.16" stroke="#000" stroke-width="0.8"/>
<line x1="233.20" y1="212.84" x2="234.40" y2="212.84" stroke="#000" stroke-width="0.8"/>
<line x1="233.20" y1="197.52" x2="234.40" y2="197.52" stroke="#000" stroke-width="0.8"/>
<line x1="236.10" y1="297.10" x2="236.10" y2="299.60" stroke="#000" stroke-width="0.9"/>
<text x="0.00" y="0.00" font-size="9.2" text-anchor="middle" font-weight="normal" font-style="normal" fill="#111" font-family='"Liberation Serif", serif' transform="translate(236.10 307.40) scale(0.82 1)" stroke="#111" stroke-width="0.12">0</text>
<line x1="261.46" y1="297.10" x2="261.46" y2="299.60" stroke="#000" stroke-width="0.9"/>
<text x="0.00" y="0.00" font-size="9.2" text-anchor="middle" font-weight="normal" font-style="normal" fill="#111" font-family='"Liberation Serif", serif' transform="translate(261.46 307.40) scale(0.82 1)" stroke="#111" stroke-width="0.12">20</text>
<line x1="286.82" y1="297.10" x2="286.82" y2="299.60" stroke="#000" stroke-width="0.9"/>
<text x="0.00" y="0.00" font-size="9.2" text-anchor="middle" font-weight="normal" font-style="normal" fill="#111" font-family='"Liberation Serif", serif' transform="translate(286.82 307.40) scale(0.82 1)" stroke="#111" stroke-width="0.12">40</text>
<line x1="312.18" y1="297.10" x2="312.18" y2="299.60" stroke="#000" stroke-width="0.9"/>
<text x="0.00" y="0.00" font-size="9.2" text-anchor="middle" font-weight="normal" font-style="normal" fill="#111" font-family='"Liberation Serif", serif' transform="translate(312.18 307.40) scale(0.82 1)" stroke="#111" stroke-width="0.12">60</text>
<line x1="337.54" y1="297.10" x2="337.54" y2="299.60" stroke="#000" stroke-width="0.9"/>
<text x="0.00" y="0.00" font-size="9.2" text-anchor="middle" font-weight="normal" font-style="normal" fill="#111" font-family='"Liberation Serif", serif' transform="translate(337.54 307.40) scale(0.82 1)" stroke="#111" stroke-width="0.12">80</text>
<line x1="362.90" y1="297.10" x2="362.90" y2="299.60" stroke="#000" stroke-width="0.9"/>
<text x="0.00" y="0.00" font-size="9.2" text-anchor="middle" font-weight="normal" font-style="normal" fill="#111" font-family='"Liberation Serif", serif' transform="translate(362.90 307.40) scale(0.82 1)" stroke="#111" stroke-width="0.12">100</text>
<line x1="388.26" y1="297.10" x2="388.26" y2="299.60" stroke="#000" stroke-width="0.9"/>
<text x="0.00" y="0.00" font-size="9.2" text-anchor="middle" font-weight="normal" font-style="normal" fill="#111" font-family='"Liberation Serif", serif' transform="translate(388.26 307.40) scale(0.82 1)" stroke="#111" stroke-width="0.12">120</text>
<line x1="413.62" y1="297.10" x2="413.62" y2="299.60" stroke="#000" stroke-width="0.9"/>
<text x="0.00" y="0.00" font-size="9.2" text-anchor="middle" font-weight="normal" font-style="normal" fill="#111" font-family='"Liberation Serif", serif' transform="translate(413.62 307.40) scale(0.82 1)" stroke="#111" stroke-width="0.12">140</text>
<line x1="438.98" y1="297.10" x2="438.98" y2="299.60" stroke="#000" stroke-width="0.9"/>
<text x="0.00" y="0.00" font-size="9.2" text-anchor="middle" font-weight="normal" font-style="normal" fill="#111" font-family='"Liberation Serif", serif' transform="translate(438.98 307.40) scale(0.82 1)" stroke="#111" stroke-width="0.12">160</text>
<line x1="464.34" y1="297.10" x2="464.34" y2="299.60" stroke="#000" stroke-width="0.9"/>
<text x="0.00" y="0.00" font-size="9.2" text-anchor="middle" font-weight="normal" font-style="normal" fill="#111" font-family='"Liberation Serif", serif' transform="translate(464.34 307.40) scale(0.82 1)" stroke="#111" stroke-width="0.12">180</text>
<line x1="489.70" y1="297.10" x2="489.70" y2="299.60" stroke="#000" stroke-width="0.9"/>
<text x="0.00" y="0.00" font-size="9.2" text-anchor="middle" font-weight="normal" font-style="normal" fill="#111" font-family='"Liberation Serif", serif' transform="translate(489.70 307.40) scale(0.82 1)" stroke="#111" stroke-width="0.12">200</text>
<line x1="248.78" y1="297.10" x2="248.78" y2="298.50" stroke="#000" stroke-width="0.8"/>
<line x1="274.14" y1="297.10" x2="274.14" y2="298.50" stroke="#000" stroke-width="0.8"/>
<line x1="299.50" y1="297.10" x2="299.50" y2="298.50" stroke="#000" stroke-width="0.8"/>
<line x1="324.86" y1="297.10" x2="324.86" y2="298.50" stroke="#000" stroke-width="0.8"/>
<line x1="350.22" y1="297.10" x2="350.22" y2="298.50" stroke="#000" stroke-width="0.8"/>
<line x1="375.58" y1="297.10" x2="375.58" y2="298.50" stroke="#000" stroke-width="0.8"/>
<line x1="400.94" y1="297.10" x2="400.94" y2="298.50" stroke="#000" stroke-width="0.8"/>
<line x1="426.30" y1="297.10" x2="426.30" y2="298.50" stroke="#000" stroke-width="0.8"/>
<line x1="451.66" y1="297.10" x2="451.66" y2="298.50" stroke="#000" stroke-width="0.8"/>
<line x1="477.02" y1="297.10" x2="477.02" y2="298.50" stroke="#000" stroke-width="0.8"/>
<path d="M234.4,297.1 L234.4,182.2 L491.6,182.2" fill="none" stroke="#000" stroke-width="1.1"/>
<line x1="234.40" y1="297.10" x2="491.60" y2="297.10" stroke="#000" stroke-width="1.1"/>
<line x1="491.60" y1="182.20" x2="491.60" y2="297.60" stroke="#1a2ef0" stroke-width="1.1"/>
<line x1="491.60" y1="297.10" x2="493.80" y2="297.10" stroke="#1a2ef0" stroke-width="0.9"/>
<text x="0.00" y="0.00" font-size="9.4" text-anchor="start" font-weight="normal" font-style="normal" fill="#1530e0" font-family='"Liberation Serif", serif' transform="translate(493.70 300.30) scale(0.82 1)" stroke="#1530e0" stroke-width="0.15">0</text>
<line x1="491.60" y1="282.74" x2="493.80" y2="282.74" stroke="#1a2ef0" stroke-width="0.9"/>
<text x="0.00" y="0.00" font-size="9.4" text-anchor="start" font-weight="normal" font-style="normal" fill="#1530e0" font-family='"Liberation Serif", serif' transform="translate(493.70 285.94) scale(0.82 1)" stroke="#1530e0" stroke-width="0.15">50</text>
<line x1="491.60" y1="268.38" x2="493.80" y2="268.38" stroke="#1a2ef0" stroke-width="0.9"/>
<text x="0.00" y="0.00" font-size="9.4" text-anchor="start" font-weight="normal" font-style="normal" fill="#1530e0" font-family='"Liberation Serif", serif' transform="translate(493.70 271.57) scale(0.82 1)" stroke="#1530e0" stroke-width="0.15">100</text>
<line x1="491.60" y1="254.01" x2="493.80" y2="254.01" stroke="#1a2ef0" stroke-width="0.9"/>
<text x="0.00" y="0.00" font-size="9.4" text-anchor="start" font-weight="normal" font-style="normal" fill="#1530e0" font-family='"Liberation Serif", serif' transform="translate(493.70 257.21) scale(0.82 1)" stroke="#1530e0" stroke-width="0.15">150</text>
<line x1="491.60" y1="239.65" x2="493.80" y2="239.65" stroke="#1a2ef0" stroke-width="0.9"/>
<text x="0.00" y="0.00" font-size="9.4" text-anchor="start" font-weight="normal" font-style="normal" fill="#1530e0" font-family='"Liberation Serif", serif' transform="translate(493.70 242.85) scale(0.82 1)" stroke="#1530e0" stroke-width="0.15">200</text>
<line x1="491.60" y1="225.29" x2="493.80" y2="225.29" stroke="#1a2ef0" stroke-width="0.9"/>
<text x="0.00" y="0.00" font-size="9.4" text-anchor="start" font-weight="normal" font-style="normal" fill="#1530e0" font-family='"Liberation Serif", serif' transform="translate(493.70 228.49) scale(0.82 1)" stroke="#1530e0" stroke-width="0.15">250</text>
<line x1="491.60" y1="210.93" x2="493.80" y2="210.93" stroke="#1a2ef0" stroke-width="0.9"/>
<text x="0.00" y="0.00" font-size="9.4" text-anchor="start" font-weight="normal" font-style="normal" fill="#1530e0" font-family='"Liberation Serif", serif' transform="translate(493.70 214.12) scale(0.82 1)" stroke="#1530e0" stroke-width="0.15">300</text>
<line x1="491.60" y1="196.56" x2="493.80" y2="196.56" stroke="#1a2ef0" stroke-width="0.9"/>
<text x="0.00" y="0.00" font-size="9.4" text-anchor="start" font-weight="normal" font-style="normal" fill="#1530e0" font-family='"Liberation Serif", serif' transform="translate(493.70 199.76) scale(0.82 1)" stroke="#1530e0" stroke-width="0.15">350</text>
<line x1="491.60" y1="182.20" x2="493.80" y2="182.20" stroke="#1a2ef0" stroke-width="0.9"/>
<text x="0.00" y="0.00" font-size="9.4" text-anchor="start" font-weight="normal" font-style="normal" fill="#1530e0" font-family='"Liberation Serif", serif' transform="translate(493.70 185.40) scale(0.82 1)" stroke="#1530e0" stroke-width="0.15">400</text>
<line x1="491.60" y1="289.92" x2="492.80" y2="289.92" stroke="#1a2ef0" stroke-width="0.8"/>
<line x1="491.60" y1="275.56" x2="492.80" y2="275.56" stroke="#1a2ef0" stroke-width="0.8"/>
<line x1="491.60" y1="261.19" x2="492.80" y2="261.19" stroke="#1a2ef0" stroke-width="0.8"/>
<line x1="491.60" y1="246.83" x2="492.80" y2="246.83" stroke="#1a2ef0" stroke-width="0.8"/>
<line x1="491.60" y1="232.47" x2="492.80" y2="232.47" stroke="#1a2ef0" stroke-width="0.8"/>
<line x1="491.60" y1="218.11" x2="492.80" y2="218.11" stroke="#1a2ef0" stroke-width="0.8"/>
<line x1="491.60" y1="203.74" x2="492.80" y2="203.74" stroke="#1a2ef0" stroke-width="0.8"/>
<line x1="491.60" y1="189.38" x2="492.80" y2="189.38" stroke="#1a2ef0" stroke-width="0.8"/>
<text x="0" y="0" font-size="8.8" font-weight="bold" fill="#000" font-family='"Liberation Serif", serif' transform="translate(215.20 258.60) scale(0.88 1) rotate(-90)" textLength="45.6" lengthAdjust="spacingAndGlyphs">Voltage (V)</text>
<text x="514.50" y="290.60" font-size="8.8" text-anchor="start" font-weight="bold" font-style="normal" fill="#1a2ef0" font-family='"Liberation Serif", serif' transform="rotate(-90 514.5 290.6)" textLength="100.5" lengthAdjust="spacingAndGlyphs">Power density (mW cm<tspan font-size="5.2" dy="-3.2">−2</tspan><tspan dy="3.2">)</tspan></text>
<text x="347.20" y="317.10" font-size="8.7" text-anchor="start" font-weight="bold" font-style="normal" fill="#000" font-family='"Liberation Serif", serif' textLength="27.2" lengthAdjust="spacingAndGlyphs">Time (h)</text>
<circle cx="236.10" cy="219.30" r="1.5" fill="none" stroke="#f01818" stroke-width="1.15"/>
<circle cx="248.78" cy="219.30" r="1.5" fill="none" stroke="#f01818" stroke-width="1.15"/>
<circle cx="261.46" cy="219.30" r="1.5" fill="none" stroke="#f01818" stroke-width="1.15"/>
<circle cx="274.14" cy="219.30" r="1.5" fill="none" stroke="#f01818" stroke-width="1.15"/>
<circle cx="286.82" cy="219.30" r="1.5" fill="none" stroke="#f01818" stroke-width="1.15"/>
<circle cx="299.50" cy="219.30" r="1.5" fill="none" stroke="#f01818" stroke-width="1.15"/>
<circle cx="312.18" cy="219.30" r="1.5" fill="none" stroke="#f01818" stroke-width="1.15"/>
<circle cx="324.86" cy="219.30" r="1.5" fill="none" stroke="#f01818" stroke-width="1.15"/>
<circle cx="337.54" cy="219.30" r="1.5" fill="none" stroke="#f01818" stroke-width="1.15"/>
<circle cx="350.22" cy="219.30" r="1.5" fill="none" stroke="#f01818" stroke-width="1.15"/>
<circle cx="362.90" cy="219.30" r="1.5" fill="none" stroke="#f01818" stroke-width="1.15"/>
<circle cx="375.58" cy="219.30" r="1.5" fill="none" stroke="#f01818" stroke-width="1.15"/>
<circle cx="388.26" cy="219.30" r="1.5" fill="none" stroke="#f01818" stroke-width="1.15"/>
<circle cx="400.94" cy="219.30" r="1.5" fill="none" stroke="#f01818" stroke-width="1.15"/>
<circle cx="413.62" cy="219.30" r="1.5" fill="none" stroke="#f01818" stroke-width="1.15"/>
<circle cx="426.30" cy="219.30" r="1.5" fill="none" stroke="#f01818" stroke-width="1.15"/>
<circle cx="438.98" cy="219.30" r="1.5" fill="none" stroke="#f01818" stroke-width="1.15"/>
<circle cx="451.66" cy="219.30" r="1.5" fill="none" stroke="#f01818" stroke-width="1.15"/>
<circle cx="464.34" cy="219.30" r="1.5" fill="none" stroke="#f01818" stroke-width="1.15"/>
<circle cx="477.02" cy="219.30" r="1.5" fill="none" stroke="#f01818" stroke-width="1.15"/>
<g fill="#0a0a0a"><rect x="234.00" y="231.30" width="2.0" height="2.6"/><rect x="236.33" y="231.55" width="2.0" height="2.6"/><rect x="238.66" y="231.88" width="2.0" height="2.6"/><rect x="240.99" y="232.26" width="2.0" height="2.6"/><rect x="243.32" y="232.68" width="2.0" height="2.6"/><rect x="245.65" y="233.10" width="2.0" height="2.6"/><rect x="247.98" y="233.50" width="2.0" height="2.6"/><rect x="250.31" y="233.82" width="2.0" height="2.6"/><rect x="252.64" y="234.06" width="2.0" height="2.6"/><rect x="254.97" y="234.30" width="2.0" height="2.6"/><rect x="257.30" y="234.53" width="2.0" height="2.6"/><rect x="259.63" y="234.71" width="2.0" height="2.6"/><rect x="261.96" y="234.82" width="2.0" height="2.6"/><rect x="264.29" y="234.91" width="2.0" height="2.6"/><rect x="266.62" y="235.00" width="2.0" height="2.6"/><rect x="268.95" y="235.09" width="2.0" height="2.6"/><rect x="271.28" y="235.18" width="2.0" height="2.6"/><rect x="273.61" y="235.25" width="2.0" height="2.6"/><rect x="275.94" y="235.33" width="2.0" height="2.6"/><rect x="278.27" y="235.41" width="2.0" height="2.6"/><rect x="280.60" y="235.49" width="2.0" height="2.6"/><rect x="282.93" y="235.56" width="2.0" height="2.6"/><rect x="285.26" y="235.62" width="2.0" height="2.6"/><rect x="287.59" y="235.67" width="2.0" height="2.6"/><rect x="289.92" y="235.72" width="2.0" height="2.6"/><rect x="292.25" y="235.76" width="2.0" height="2.6"/><rect x="294.58" y="235.81" width="2.0" height="2.6"/><rect x="296.91" y="235.86" width="2.0" height="2.6"/><rect x="299.24" y="235.90" width="2.0" height="2.6"/><rect x="301.57" y="235.95" width="2.0" height="2.6"/><rect x="303.90" y="236.00" width="2.0" height="2.6"/><rect x="306.23" y="236.04" width="2.0" height="2.6"/><rect x="308.56" y="236.09" width="2.0" height="2.6"/><rect x="310.89" y="236.14" width="2.0" height="2.6"/><rect x="313.22" y="236.18" width="2.0" height="2.6"/><rect x="315.55" y="236.23" width="2.0" height="2.6"/><rect x="317.88" y="236.28" width="2.0" height="2.6"/><rect x="320.21" y="236.32" width="2.0" height="2.6"/><rect x="322.54" y="236.37" width="2.0" height="2.6"/><rect x="324.87" y="236.42" width="2.0" height="2.6"/><rect x="327.20" y="236.46" width="2.0" height="2.6"/><rect x="329.53" y="236.51" width="2.0" height="2.6"/><rect x="331.86" y="236.56" width="2.0" height="2.6"/><rect x="334.19" y="236.60" width="2.0" height="2.6"/><rect x="336.52" y="236.65" width="2.0" height="2.6"/><rect x="338.85" y="236.70" width="2.0" height="2.6"/><rect x="341.18" y="236.77" width="2.0" height="2.6"/><rect x="343.51" y="236.84" width="2.0" height="2.6"/><rect x="345.84" y="236.91" width="2.0" height="2.6"/><rect x="348.17" y="236.98" width="2.0" height="2.6"/><rect x="350.50" y="237.04" width="2.0" height="2.6"/><rect x="352.83" y="237.11" width="2.0" height="2.6"/><rect x="355.16" y="237.18" width="2.0" height="2.6"/><rect x="357.49" y="237.25" width="2.0" height="2.6"/><rect x="359.82" y="237.32" width="2.0" height="2.6"/><rect x="362.15" y="237.39" width="2.0" height="2.6"/><rect x="364.48" y="237.46" width="2.0" height="2.6"/><rect x="366.81" y="237.53" width="2.0" height="2.6"/><rect x="369.14" y="237.60" width="2.0" height="2.6"/><rect x="371.47" y="237.67" width="2.0" height="2.6"/><rect x="373.80" y="237.74" width="2.0" height="2.6"/><rect x="376.13" y="237.81" width="2.0" height="2.6"/><rect x="378.46" y="237.88" width="2.0" height="2.6"/><rect x="380.79" y="237.93" width="2.0" height="2.6"/><rect x="383.12" y="237.97" width="2.0" height="2.6"/><rect x="385.45" y="238.02" width="2.0" height="2.6"/><rect x="387.78" y="238.06" width="2.0" height="2.6"/><rect x="390.11" y="238.10" width="2.0" height="2.6"/><rect x="392.44" y="238.14" width="2.0" height="2.6"/><rect x="394.77" y="238.19" width="2.0" height="2.6"/><rect x="397.10" y="238.23" width="2.0" height="2.6"/><rect x="399.43" y="238.27" width="2.0" height="2.6"/><rect x="401.76" y="238.31" width="2.0" height="2.6"/><rect x="404.09" y="238.36" width="2.0" height="2.6"/><rect x="406.42" y="238.40" width="2.0" height="2.6"/><rect x="408.75" y="238.44" width="2.0" height="2.6"/><rect x="411.08" y="238.48" width="2.0" height="2.6"/><rect x="413.41" y="238.53" width="2.0" height="2.6"/><rect x="415.74" y="238.57" width="2.0" height="2.6"/><rect x="418.07" y="238.61" width="2.0" height="2.6"/><rect x="420.40" y="238.65" width="2.0" height="2.6"/><rect x="422.73" y="238.70" width="2.0" height="2.6"/><rect x="425.06" y="238.74" width="2.0" height="2.6"/><rect x="427.39" y="238.78" width="2.0" height="2.6"/><rect x="429.72" y="238.82" width="2.0" height="2.6"/><rect x="432.05" y="238.86" width="2.0" height="2.6"/><rect x="434.38" y="238.91" width="2.0" height="2.6"/><rect x="436.71" y="238.96" width="2.0" height="2.6"/><rect x="439.04" y="239.02" width="2.0" height="2.6"/><rect x="441.37" y="239.07" width="2.0" height="2.6"/><rect x="443.70" y="239.13" width="2.0" height="2.6"/><rect x="446.03" y="239.18" width="2.0" height="2.6"/><rect x="448.36" y="239.23" width="2.0" height="2.6"/><rect x="450.69" y="239.29" width="2.0" height="2.6"/><rect x="453.02" y="239.34" width="2.0" height="2.6"/><rect x="455.35" y="239.40" width="2.0" height="2.6"/><rect x="457.68" y="239.45" width="2.0" height="2.6"/><rect x="460.01" y="239.50" width="2.0" height="2.6"/><rect x="462.34" y="239.56" width="2.0" height="2.6"/><rect x="464.67" y="239.61" width="2.0" height="2.6"/><rect x="467.00" y="239.67" width="2.0" height="2.6"/><rect x="469.33" y="239.72" width="2.0" height="2.6"/><rect x="471.66" y="239.77" width="2.0" height="2.6"/><rect x="473.99" y="239.83" width="2.0" height="2.6"/><rect x="476.32" y="239.88" width="2.0" height="2.6"/><rect x="478.65" y="239.94" width="2.0" height="2.6"/><rect x="480.98" y="239.99" width="2.0" height="2.6"/><rect x="483.31" y="240.04" width="2.0" height="2.6"/><rect x="485.64" y="240.10" width="2.0" height="2.6"/><rect x="487.97" y="240.15" width="2.0" height="2.6"/></g>
<g fill="#1212f0"><rect x="234.00" y="247.74" width="2.0" height="2.6"/><rect x="236.33" y="247.85" width="2.0" height="2.6"/><rect x="238.66" y="248.00" width="2.0" height="2.6"/><rect x="240.99" y="248.18" width="2.0" height="2.6"/><rect x="243.32" y="248.39" width="2.0" height="2.6"/><rect x="245.65" y="248.60" width="2.0" height="2.6"/><rect x="247.98" y="248.81" width="2.0" height="2.6"/><rect x="250.31" y="249.03" width="2.0" height="2.6"/><rect x="252.64" y="249.26" width="2.0" height="2.6"/><rect x="254.97" y="249.50" width="2.0" height="2.6"/><rect x="257.30" y="249.73" width="2.0" height="2.6"/><rect x="259.63" y="249.91" width="2.0" height="2.6"/><rect x="261.96" y="250.02" width="2.0" height="2.6"/><rect x="264.29" y="250.11" width="2.0" height="2.6"/><rect x="266.62" y="250.20" width="2.0" height="2.6"/><rect x="268.95" y="250.29" width="2.0" height="2.6"/><rect x="271.28" y="250.36" width="2.0" height="2.6"/><rect x="273.61" y="250.42" width="2.0" height="2.6"/><rect x="275.94" y="250.49" width="2.0" height="2.6"/><rect x="278.27" y="250.55" width="2.0" height="2.6"/><rect x="280.60" y="250.61" width="2.0" height="2.6"/><rect x="282.93" y="250.67" width="2.0" height="2.6"/><rect x="285.26" y="250.72" width="2.0" height="2.6"/><rect x="287.59" y="250.75" width="2.0" height="2.6"/><rect x="289.92" y="250.79" width="2.0" height="2.6"/><rect x="292.25" y="250.82" width="2.0" height="2.6"/><rect x="294.58" y="250.85" width="2.0" height="2.6"/><rect x="296.91" y="250.89" width="2.0" height="2.6"/><rect x="299.24" y="250.92" width="2.0" height="2.6"/><rect x="301.57" y="250.96" width="2.0" height="2.6"/><rect x="303.90" y="250.99" width="2.0" height="2.6"/><rect x="306.23" y="251.02" width="2.0" height="2.6"/><rect x="308.56" y="251.06" width="2.0" height="2.6"/><rect x="310.89" y="251.09" width="2.0" height="2.6"/><rect x="313.22" y="251.13" width="2.0" height="2.6"/><rect x="315.55" y="251.16" width="2.0" height="2.6"/><rect x="317.88" y="251.19" width="2.0" height="2.6"/><rect x="320.21" y="251.23" width="2.0" height="2.6"/><rect x="322.54" y="251.26" width="2.0" height="2.6"/><rect x="324.87" y="251.29" width="2.0" height="2.6"/><rect x="327.20" y="251.33" width="2.0" height="2.6"/><rect x="329.53" y="251.36" width="2.0" height="2.6"/><rect x="331.86" y="251.40" width="2.0" height="2.6"/><rect x="334.19" y="251.43" width="2.0" height="2.6"/><rect x="336.52" y="251.46" width="2.0" height="2.6"/><rect x="338.85" y="251.50" width="2.0" height="2.6"/><rect x="341.18" y="251.54" width="2.0" height="2.6"/><rect x="343.51" y="251.58" width="2.0" height="2.6"/><rect x="345.84" y="251.62" width="2.0" height="2.6"/><rect x="348.17" y="251.66" width="2.0" height="2.6"/><rect x="350.50" y="251.70" width="2.0" height="2.6"/><rect x="352.83" y="251.74" width="2.0" height="2.6"/><rect x="355.16" y="251.78" width="2.0" height="2.6"/><rect x="357.49" y="251.82" width="2.0" height="2.6"/><rect x="359.82" y="251.86" width="2.0" height="2.6"/><rect x="362.15" y="251.91" width="2.0" height="2.6"/><rect x="364.48" y="251.95" width="2.0" height="2.6"/><rect x="366.81" y="251.99" width="2.0" height="2.6"/><rect x="369.14" y="252.03" width="2.0" height="2.6"/><rect x="371.47" y="252.07" width="2.0" height="2.6"/><rect x="373.80" y="252.11" width="2.0" height="2.6"/><rect x="376.13" y="252.15" width="2.0" height="2.6"/><rect x="378.46" y="252.19" width="2.0" height="2.6"/><rect x="380.79" y="252.22" width="2.0" height="2.6"/><rect x="383.12" y="252.25" width="2.0" height="2.6"/><rect x="385.45" y="252.28" width="2.0" height="2.6"/><rect x="387.78" y="252.31" width="2.0" height="2.6"/><rect x="390.11" y="252.34" width="2.0" height="2.6"/><rect x="392.44" y="252.37" width="2.0" height="2.6"/><rect x="394.77" y="252.40" width="2.0" height="2.6"/><rect x="397.10" y="252.43" width="2.0" height="2.6"/><rect x="399.43" y="252.46" width="2.0" height="2.6"/><rect x="401.76" y="252.49" width="2.0" height="2.6"/><rect x="404.09" y="252.52" width="2.0" height="2.6"/><rect x="406.42" y="252.55" width="2.0" height="2.6"/><rect x="408.75" y="252.58" width="2.0" height="2.6"/><rect x="411.08" y="252.61" width="2.0" height="2.6"/><rect x="413.41" y="252.64" width="2.0" height="2.6"/><rect x="415.74" y="252.67" width="2.0" height="2.6"/><rect x="418.07" y="252.70" width="2.0" height="2.6"/><rect x="420.40" y="252.73" width="2.0" height="2.6"/><rect x="422.73" y="252.76" width="2.0" height="2.6"/><rect x="425.06" y="252.79" width="2.0" height="2.6"/><rect x="427.39" y="252.82" width="2.0" height="2.6"/><rect x="429.72" y="252.85" width="2.0" height="2.6"/><rect x="432.05" y="252.88" width="2.0" height="2.6"/><rect x="434.38" y="252.91" width="2.0" height="2.6"/><rect x="436.71" y="252.95" width="2.0" height="2.6"/><rect x="439.04" y="252.99" width="2.0" height="2.6"/><rect x="441.37" y="253.03" width="2.0" height="2.6"/><rect x="443.70" y="253.07" width="2.0" height="2.6"/><rect x="446.03" y="253.11" width="2.0" height="2.6"/><rect x="448.36" y="253.16" width="2.0" height="2.6"/><rect x="450.69" y="253.20" width="2.0" height="2.6"/><rect x="453.02" y="253.24" width="2.0" height="2.6"/><rect x="455.35" y="253.28" width="2.0" height="2.6"/><rect x="457.68" y="253.32" width="2.0" height="2.6"/><rect x="460.01" y="253.36" width="2.0" height="2.6"/><rect x="462.34" y="253.41" width="2.0" height="2.6"/><rect x="464.67" y="253.45" width="2.0" height="2.6"/><rect x="467.00" y="253.49" width="2.0" height="2.6"/><rect x="469.33" y="253.53" width="2.0" height="2.6"/><rect x="471.66" y="253.57" width="2.0" height="2.6"/><rect x="473.99" y="253.61" width="2.0" height="2.6"/><rect x="476.32" y="253.66" width="2.0" height="2.6"/><rect x="478.65" y="253.70" width="2.0" height="2.6"/><rect x="480.98" y="253.74" width="2.0" height="2.6"/><rect x="483.31" y="253.78" width="2.0" height="2.6"/><rect x="485.64" y="253.82" width="2.0" height="2.6"/><rect x="487.97" y="253.86" width="2.0" height="2.6"/></g>
<text x="355.20" y="211.40" font-size="9.0" text-anchor="start" font-weight="normal" font-style="normal" fill="#ee1414" font-family='"Liberation Serif", serif' stroke="#ee1414" stroke-width="0.3" textLength="15" lengthAdjust="spacingAndGlyphs">OCV</text>
<text x="338.80" y="231.50" font-size="8.8" text-anchor="start" font-weight="normal" font-style="normal" fill="#111" font-family='"Liberation Serif", serif' stroke="#111" stroke-width="0.15" textLength="49.5" lengthAdjust="spacingAndGlyphs">Terminal voltage</text>
<text x="342.10" y="247.80" font-size="8.8" text-anchor="start" font-weight="normal" font-style="normal" fill="#1530e8" font-family='"Liberation Serif", serif' stroke="#1530e8" stroke-width="0.15" textLength="42" lengthAdjust="spacingAndGlyphs">Power density</text>
<text x="339.60" y="277.80" font-size="8.9" text-anchor="start" font-weight="normal" font-style="normal" fill="#111" font-family='"Liberation Serif", serif' textLength="49.2" lengthAdjust="spacingAndGlyphs"><tspan font-style="italic">j</tspan> = 200 mA cm<tspan font-size="5" dy="-3.2">−2</tspan></text>
</svg>
</body></html>
